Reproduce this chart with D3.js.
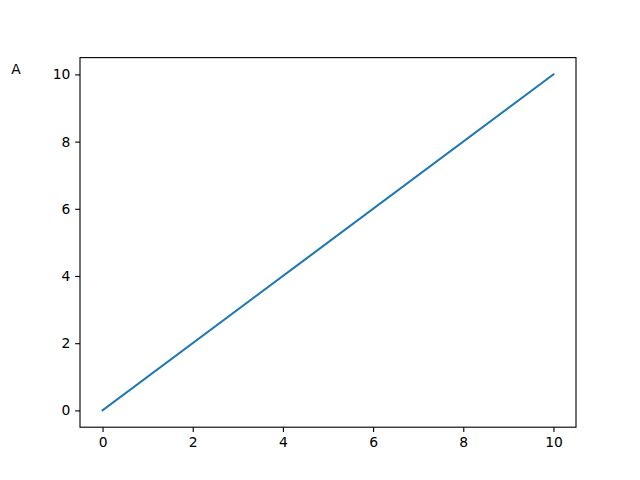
<!DOCTYPE html>
<html>
<head>
<meta charset="utf-8">
<script src="https://cdn.jsdelivr.net/npm/d3@7"></script>
<style>
  body { margin: 0; background: #fff; }
  svg { display: block; }
  text { font-family: "DejaVu Sans", sans-serif; }
</style>
</head>
<body>
<svg width="640" height="480"></svg>
<script>
// data
const xValues = [0, 10];
const yValues = [0, 10];
const xTicks = [0, 2, 4, 6, 8, 10];
const yTicks = [0, 2, 4, 6, 8, 10];
const cornerLabel = 'A';

const svg = d3.select('svg');
const plotLeft = 80, plotRight = 576, plotTop = 57.6, plotBottom = 427.2;
const pt = 100 / 72; // points to pixels at 100 dpi

// matplotlib style 5% margins
const x = d3.scaleLinear().domain([-0.5, 10.5]).range([plotLeft, plotRight]);
const y = d3.scaleLinear().domain([-0.5, 10.5]).range([plotBottom, plotTop]);

const pts = xValues.map((v, i) => [v, yValues[i]]);

svg.append('path')
  .datum(pts)
  .attr('fill', 'none')
  .attr('stroke', '#1f77b4')
  .attr('stroke-width', 1.5 * pt)
  .attr('stroke-linecap', 'square')
  .attr('d', d3.line().x(d => x(d[0])).y(d => y(d[1])));

// axes
const xAxis = svg.append('g')
  .attr('transform', `translate(0,${plotBottom})`)
  .call(d3.axisBottom(x).tickValues(xTicks).tickSize(3.5 * pt).tickPadding(3.5 * pt).tickFormat(d3.format('d')));
const yAxis = svg.append('g')
  .attr('transform', `translate(${plotLeft},0)`)
  .call(d3.axisLeft(y).tickValues(yTicks).tickSize(3.5 * pt).tickPadding(3.5 * pt).tickFormat(d3.format('d')));

[xAxis, yAxis].forEach(g => {
  g.select('.domain').remove();
  g.selectAll('line').attr('stroke', '#000').attr('stroke-width', 0.8 * pt);
  g.selectAll('text').attr('font-size', 10 * pt).attr('fill', '#000')
    .style('font-family', '"DejaVu Sans", sans-serif');
});

// frame
svg.append('rect')
  .attr('x', plotLeft).attr('y', plotTop)
  .attr('width', plotRight - plotLeft).attr('height', plotBottom - plotTop)
  .attr('fill', 'none').attr('stroke', '#000').attr('stroke-width', 0.8 * pt);

svg.append('text')
  .attr('x', 16).attr('y', 74)
  .attr('text-anchor', 'middle')
  .attr('font-size', 10 * pt)
  .text(cornerLabel);
</script>
</body>
</html>
